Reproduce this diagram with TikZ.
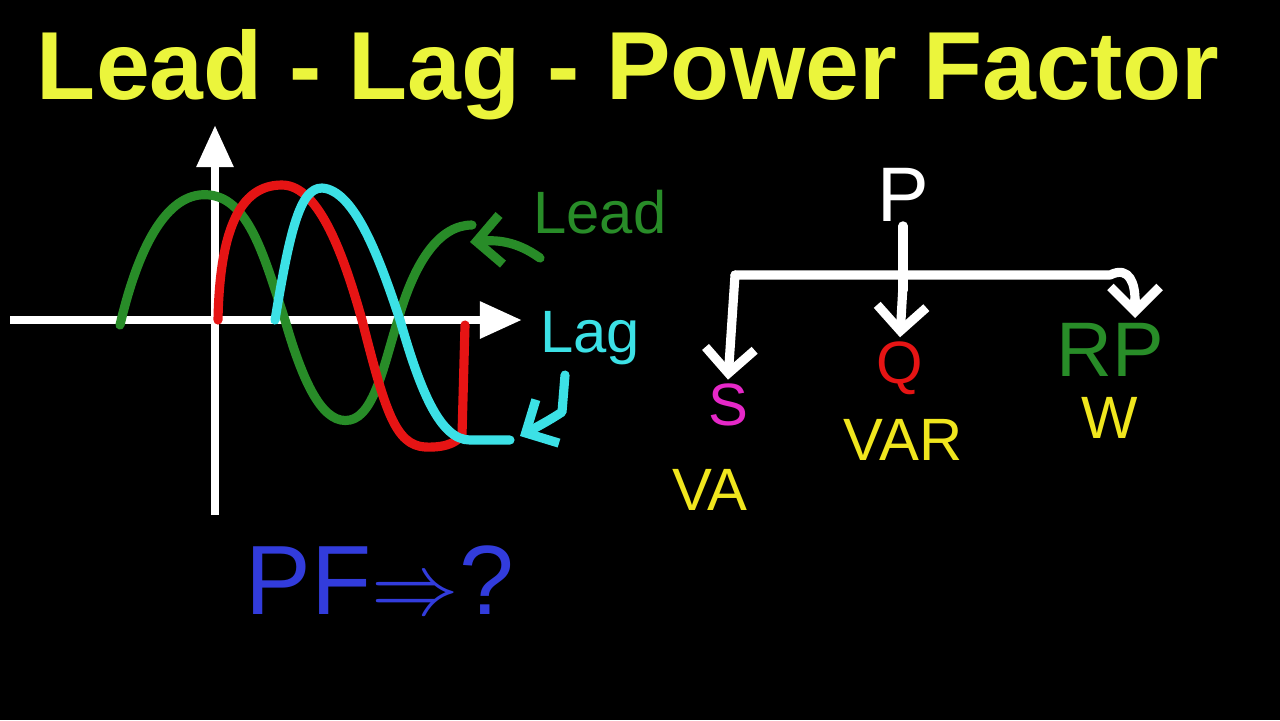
\documentclass[tikz,border=0pt]{standalone}
\usepackage{fontspec}
\setmainfont{Liberation Sans}
\usetikzlibrary{arrows.meta,positioning}
\definecolor{ttl}{RGB}{235,245,60}
\definecolor{grn}{RGB}{40,140,40}
\definecolor{rd}{RGB}{230,20,20}
\definecolor{cy}{RGB}{60,225,230}
\definecolor{mg}{RGB}{230,40,200}
\definecolor{yl}{RGB}{240,230,30}
\definecolor{bl}{RGB}{50,60,220}
\tikzset{
	hand/.style={line width=2.6pt,line cap=round,line join=round},
	lbl/.style={font=\fontsize{17}{19}\selectfont,inner sep=1pt},
}
\begin{document}
\begin{tikzpicture}[x=0.01cm,y=-0.01cm]
	\useasboundingbox (0,0) rectangle (1280,720);
	\fill[black] (0,0) rectangle (1280,720);
	\node (title) at (628,75) [text=ttl,font=\bfseries\fontsize{27.5}{30}\selectfont] {Lead - Lag - Power Factor};
	% axes
	\coordinate (ybot) at (215,515);
	\coordinate (ytop) at (215,125);
	\coordinate (xl) at (10,320);
	\coordinate (xr) at (522,320);
	\draw[white,line width=2.5pt,-{Triangle[length=12pt,width=10pt]}] (ybot) -- (ytop);
	\draw[white,line width=2.5pt,-{Triangle[length=12pt,width=10pt]}] (xl) -- (xr);
	% waves
	\draw[grn,hand] (120,325) .. controls (140,240) and (170,190) .. (210,195) .. controls (250,200) and (265,260) .. (285,320) .. controls (305,390) and (325,425) .. (350,420) .. controls (375,415) and (385,360) .. (398,320) .. controls (415,260) and (440,225) .. (472,225);
	\draw[rd,hand] (218,320) .. controls (220,210) and (250,185) .. (282,185) .. controls (320,185) and (345,260) .. (362,320) .. controls (385,410) and (395,445) .. (425,447) .. controls (450,448) and (458,440) .. (462,435) -- (465,325);
	\draw[cy,hand] (275,320) .. controls (290,230) and (300,188) .. (322,188) .. controls (355,190) and (380,260) .. (400,320) .. controls (420,390) and (440,440) .. (470,440) -- (510,440);
	% labels
	\node (lead) at (600,212) [lbl,text=grn] {Lead};
	\node (lag) at (590,338) [lbl,text=cy] {Lag};
	\draw[grn,hand,-{Straight Barb[length=7pt]}] (540,258) .. controls (515,240) and (495,240) .. (470,242);
	\draw[cy,hand,-{Straight Barb[length=7pt]}] (565,375) -- (562,412) .. controls (550,420) and (535,428) .. (520,436);
	% power branch
	\node (P) at (903,195) [lbl,text=white,font=\fontsize{22}{24}\selectfont] {P};
	\node (S) at (728,405) [lbl,text=mg] {S};
	\node (VA) at (710,490) [lbl,text=yl] {VA};
	\node (Q) at (900,368) [lbl,text=rd] {Q};
	\node (VAR) at (903,440) [lbl,text=yl] {VAR};
	\node (RP) at (1110,350) [lbl,text=grn,font=\fontsize{22}{24}\selectfont] {RP};
	\node (W) at (1110,418) [lbl,text=yl] {W};
	\coordinate (bl) at (735,275);
	\coordinate (br) at (1110,275);
	\coordinate (rd) at (1135,300);
	\draw[white,hand] (P.south) -- (903,290);
	\draw[white,hand] (bl) -- (br) .. controls (1130,265) and (1135,285) .. (rd);
	\draw[white,hand,-{Straight Barb[length=7pt]}] (bl) -- (S.north);
	\draw[white,hand,-{Straight Barb[length=7pt]}] (903,285) -- (Q.north);
	\draw[white,hand,-{Straight Barb[length=7pt]}] (rd) -- (1135,318);
	\node (PF) at (380,580) [text=bl,font=\fontsize{28}{30}\selectfont] {PF$\Rightarrow$?};
\end{tikzpicture}
\end{document}
